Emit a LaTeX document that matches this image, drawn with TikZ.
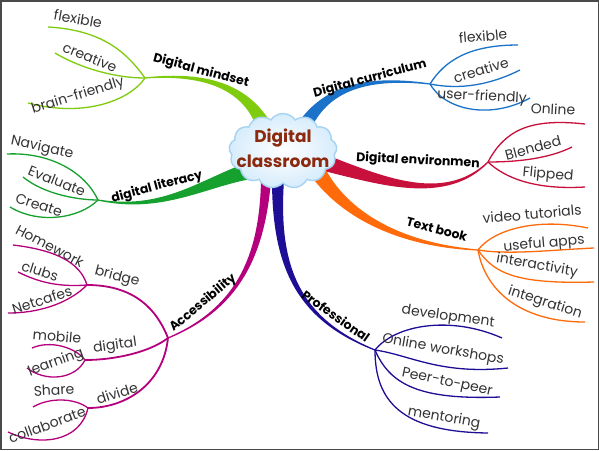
\documentclass[tikz,border=0pt]{standalone}
\usepackage{fontspec}
\setmainfont{Poppins}
\usetikzlibrary{calc,shapes.symbols}
\definecolor{cMind}{HTML}{7FCB0E}
\definecolor{cCurr}{HTML}{1A73C9}
\definecolor{cEnv}{HTML}{C8103C}
\definecolor{cText}{HTML}{FF6A0A}
\definecolor{cProf}{HTML}{1E0E96}
\definecolor{cAcc}{HTML}{B5007D}
\definecolor{cLit}{HTML}{16A12E}
\definecolor{cCloudEdge}{HTML}{A6D3F2}
\definecolor{cCloudFill}{HTML}{D6ECFB}
\definecolor{cCenter}{HTML}{8B2A0F}
\definecolor{leafgray}{HTML}{333333}
\definecolor{frame}{HTML}{4A4A4A}
% tapered branch: colour, start, control1, control2, end, start half-width
\newcommand{\mmtaper}[6]{%
  \fill[#1] ($(#2)!#6!90:(#3)$) .. controls ($(#3)!0.55*#6!90:(#4)$) and ($(#4)!0.25*#6!90:(#5)$) .. ($(#5)!0.6pt!-90:(#4)$)
     -- ($(#5)!0.6pt!90:(#4)$) .. controls ($(#4)!0.25*#6!-90:(#5)$) and ($(#3)!0.55*#6!-90:(#4)$) .. ($(#2)!#6!-90:(#3)$) -- cycle;}
\begin{document}
\begin{tikzpicture}[x=1pt,y=-1pt,
  leaf/.style={font=\fontsize{14}{14}\selectfont, text=leafgray, inner sep=0pt},
  mainlbl/.style={font=\bfseries\fontsize{12.5}{12.5}\selectfont, text=black, inner sep=0pt},
  twig/.style={line width=1.3pt},
  twigB/.style={line width=1.8pt}]
\useasboundingbox (0,0) rectangle (599,450);
\fill[white] (0,0) rectangle (599,450);

% branch points
\coordinate (bMind) at (145,78);
\coordinate (bCurr) at (430,84);
\coordinate (bEnv) at (488,162);
\coordinate (bText) at (478,250);
\coordinate (bProf) at (375,350);
\coordinate (bAcc) at (168,338);
\coordinate (bLit) at (98,200);
\coordinate (bBridge) at (87,285);
\coordinate (bDigi) at (85,360);
\coordinate (bDiv) at (88,408);
% branch starts (inside the cloud)
\coordinate (sMind) at (262,122);
\coordinate (sCurr) at (305,125);
\coordinate (sEnv) at (325,163);
\coordinate (sText) at (318,172);
\coordinate (sProf) at (278,180);
\coordinate (sAcc) at (266,180);
\coordinate (sLit) at (245,172);
% leaf ends
\coordinate (eMindFlex) at (48,27);
\coordinate (eMindCre) at (55,53);
\coordinate (eMindBrain) at (28,103);
\coordinate (eCurFlex) at (518,45);
\coordinate (eCurCre) at (520,70);
\coordinate (eCurUser) at (530,98);
\coordinate (eEnvOn) at (585,124);
\coordinate (eEnvBl) at (572,147);
\coordinate (eEnvFl) at (585,187);
\coordinate (eTxVid) at (588,228);
\coordinate (eTxUse) at (594,248);
\coordinate (eTxInt) at (594,282);
\coordinate (eTxIntg) at (585,322);
\coordinate (eProDev) at (502,338);
\coordinate (eProOW) at (508,368);
\coordinate (eProPeer) at (500,397);
\coordinate (eProMen) at (488,433);
\coordinate (eHome) at (13,245);
\coordinate (eClubs) at (18,272);
\coordinate (eNet) at (8,313);
\coordinate (eMob) at (32,348);
\coordinate (eLearn) at (27,368);
\coordinate (eShare) at (33,407);
\coordinate (eColl) at (8,432);
\coordinate (eNav) at (7,154);
\coordinate (eEval) at (23,177);
\coordinate (eCreate) at (10,207);

% main tapered branches
\mmtaper{cMind}{sMind}{245,90}{210,72}{bMind}{7pt}
\mmtaper{cCurr}{sCurr}{325,92}{360,75}{bCurr}{7pt}
\mmtaper{cEnv}{sEnv}{380,180}{445,205}{bEnv}{8pt}
\mmtaper{cText}{sText}{345,215}{400,245}{bText}{8pt}
\mmtaper{cProf}{sProf}{275,270}{300,320}{bProf}{6pt}
\mmtaper{cAcc}{sAcc}{262,260}{235,310}{bAcc}{5pt}
\mmtaper{cLit}{sLit}{200,185}{160,212}{bLit}{8pt}

% twigs
\draw[twig,cMind] (bMind) .. controls (125,50) and (100,30) .. (eMindFlex);
\draw[twig,cMind] (bMind) .. controls (115,78) and (80,68) .. (eMindCre);
\draw[twig,cMind] (bMind) .. controls (130,100) and (85,118) .. (eMindBrain);

\draw[twig,cCurr] (bCurr) .. controls (445,60) and (470,45) .. (eCurFlex);
\draw[twig,cCurr] (bCurr) .. controls (460,90) and (490,85) .. (eCurCre);
\draw[twig,cCurr] (bCurr) .. controls (445,110) and (490,120) .. (eCurUser);

\draw[twig,cEnv] (bEnv) .. controls (505,130) and (530,118) .. (eEnvOn);
\draw[twig,cEnv] (bEnv) .. controls (520,162) and (550,158) .. (eEnvBl);
\draw[twig,cEnv] (bEnv) .. controls (505,178) and (535,190) .. (eEnvFl);

\draw[twig,cText] (bText) .. controls (495,228) and (540,218) .. (eTxVid);
\draw[twig,cText] (bText) .. controls (510,255) and (550,250) .. (eTxUse);
\draw[twig,cText] (bText) .. controls (495,275) and (520,284) .. (eTxInt);
\draw[twig,cText] (bText) .. controls (485,290) and (520,322) .. (eTxIntg);

\draw[twig,cProf] (bProf) .. controls (395,325) and (450,315) .. (eProDev);
\draw[twig,cProf] (bProf) .. controls (410,355) and (440,375) .. (eProOW);
\draw[twig,cProf] (bProf) .. controls (390,385) and (420,400) .. (eProPeer);
\draw[twig,cProf] (bProf) .. controls (375,400) and (400,432) .. (eProMen);

\draw[twigB,cAcc] (bAcc) .. controls (155,305) and (130,285) .. (bBridge);
\draw[twigB,cAcc] (bAcc) .. controls (150,352) and (115,360) .. (bDigi);
\draw[twigB,cAcc] (bAcc) .. controls (163,385) and (125,408) .. (bDiv);
\draw[twig,cAcc] (bBridge) .. controls (80,262) and (55,250) .. (eHome);
\draw[twig,cAcc] (bBridge) .. controls (60,287) and (40,283) .. (eClubs);
\draw[twig,cAcc] (bBridge) .. controls (72,300) and (45,313) .. (eNet);
\draw[twig,cAcc] (bDigi) .. controls (75,347) and (50,340) .. (eMob);
\draw[twig,cAcc] (bDigi) .. controls (75,380) and (45,382) .. (eLearn);
\draw[twig,cAcc] (bDiv) .. controls (75,398) and (50,397) .. (eShare);
\draw[twig,cAcc] (bDiv) .. controls (80,442) and (40,447) .. (eColl);

\draw[twig,cLit] (bLit) .. controls (85,172) and (50,152) .. (eNav);
\draw[twig,cLit] (bLit) .. controls (80,200) and (45,195) .. (eEval);
\draw[twig,cLit] (bLit) .. controls (80,218) and (40,225) .. (eCreate);

% central cloud
\node[cloud, cloud puffs=13, cloud puff arc=110, aspect=1.45, minimum width=108pt, minimum height=75pt,
      draw=cCloudEdge, line width=1.4pt, inner color=white, outer color=cCloudFill, inner sep=0pt] (cloud) at (283,151) {};
\node[font=\bfseries\fontsize{17}{25}\selectfont, text=cCenter, align=center, inner sep=0pt] (title) at (283,148) {Digital\\classroom};

% main labels
\node[mainlbl, rotate=-15] (lMind) at (201,71) {Digital mindset};
\node[mainlbl, rotate=15] (lCurr) at (370,79) {Digital curriculum};
\node[mainlbl, rotate=-3] (lEnv) at (418,161) {Digital environmen};
\node[mainlbl, rotate=-15] (lText) at (437,229) {Text book};
\node[mainlbl, rotate=-35] (lProf) at (336,316) {Professional};
\node[mainlbl, rotate=40] (lAcc) at (203,303) {Accessibility};
\node[mainlbl, rotate=15] (lLit) at (157,187) {digital literacy};

% leaf labels
\node[leaf, rotate=-10] (tMindFlex) at (78,19) {flexible};
\node[leaf, rotate=-22] (tMindCre) at (90,57) {creative};
\node[leaf, rotate=17] (tMindBrain) at (78,96) {brain-friendly};

\node[leaf, rotate=5] (tCurFlex) at (483,36) {flexible};
\node[leaf, rotate=17] (tCurCre) at (481,70) {creative};
\node[leaf, rotate=-3] (tCurUser) at (482,97) {user-friendly};

\node[leaf, rotate=-3] (tEnvOn) at (553,109) {Online};
\node[leaf, rotate=15] (tEnvBl) at (533,148) {Blended};
\node[leaf, rotate=-5] (tEnvFl) at (548,175) {Flipped};

\node[leaf, rotate=5] (tTxVid) at (532,214) {video tutorials};
\node[leaf, rotate=5] (tTxUse) at (544,244) {useful apps};
\node[leaf, rotate=-10] (tTxInt) at (537,266) {interactivity};
\node[leaf, rotate=-18] (tTxIntg) at (545,303) {integration};

\node[leaf, rotate=-8] (tProDev) at (448,317) {development};
\node[leaf, rotate=-10] (tProOW) at (443,350) {Online workshops};
\node[leaf, rotate=-12] (tProPeer) at (447,383) {Peer-to-peer};
\node[leaf, rotate=-10] (tProMen) at (444,418) {mentoring};

\node[leaf, rotate=-15] (tBridge) at (117,277) {bridge};
\node[leaf, rotate=8] (tDigi) at (115,346) {digital};
\node[leaf, rotate=18] (tDiv) at (117,393) {divide};
\node[leaf, rotate=-28] (tHome) at (50,246) {Homework};
\node[leaf, rotate=-18] (tClubs) at (40,271) {clubs};
\node[leaf, rotate=18] (tNet) at (42,300) {Netcafes};
\node[leaf, rotate=-5] (tMob) at (57,336) {mobile};
\node[leaf, rotate=20] (tLearn) at (56,363) {learning};
\node[leaf, rotate=3] (tShare) at (54,390) {Share};
\node[leaf, rotate=20] (tColl) at (47,425) {collaborate};

\node[leaf, rotate=-12] (tNav) at (42,148) {Navigate};
\node[leaf, rotate=-22] (tEval) at (57,181) {Evaluate};
\node[leaf, rotate=-18] (tCreate) at (39,205) {Create};

% frame
\draw[frame, line width=1.5pt] (0.75,0.75) rectangle (598.25,449.25);
\end{tikzpicture}
\end{document}
